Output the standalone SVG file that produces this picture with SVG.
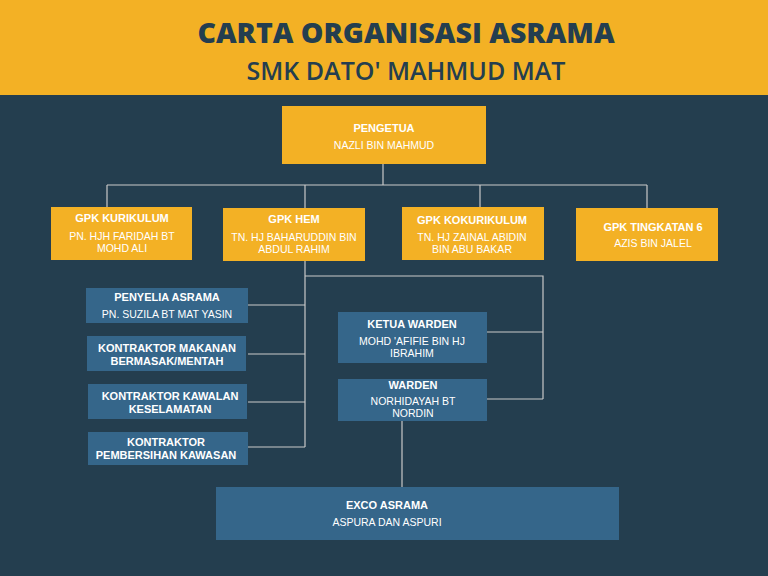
<svg xmlns="http://www.w3.org/2000/svg" width="768" height="576" viewBox="0 0 768 576">
<style>
.t{font-family:"Liberation Sans","Open Sans",sans-serif;fill:#ffffff;text-anchor:middle}
.h{font-weight:700;font-size:11px}
.n{font-weight:400;font-size:10.5px}
.y{fill:#f3b125}
.b{fill:#35668a}
.c{stroke:#c9c9c9;stroke-width:1.2;fill:none}
</style>
<rect x="0" y="0" width="768" height="576" fill="#243e4f"/>
<rect x="0" y="0" width="768" height="95" fill="#f3b125"/>
<text x="406" y="43" font-family="Open Sans, Liberation Sans, sans-serif" font-weight="800" font-size="28.5" fill="#243e4f" text-anchor="middle">CARTA ORGANISASI ASRAMA</text>
<text x="406" y="80" font-family="Open Sans, Liberation Sans, sans-serif" font-weight="600" font-size="25" fill="#243e4f" text-anchor="middle">SMK DATO' MAHMUD MAT</text>
<g id="connectors" class="c">
<path d="M383 164V185M107 185H647M107 185V207M305 185V208M480 185V207M647 185V208"/>
<path d="M305 261V447M305 276H543V399M248 305H305M248 354H305M248 402H305M248 447H305M487 332H543M487 399H543M402 421V487"/>
</g>
<g id="pengetua"><rect class="y" x="282" y="106" width="204" height="58"/><text class="t h" x="384" y="132">PENGETUA</text><text class="t n" x="384" y="149">NAZLI BIN MAHMUD</text></g>
<g id="gpk-kurikulum"><rect class="y" x="51" y="207" width="141" height="53"/><text class="t h" x="122" y="222">GPK  KURIKULUM</text><text class="t n" x="122" y="240">PN. HJH FARIDAH BT</text><text class="t n" x="122" y="252">MOHD ALI</text></g>
<g id="gpk-hem"><rect class="y" x="223" y="208" width="142" height="53"/><text class="t h" x="294" y="223">GPK HEM</text><text class="t n" x="294" y="241">TN. HJ BAHARUDDIN BIN</text><text class="t n" x="294" y="253">ABDUL RAHIM</text></g>
<g id="gpk-kokurikulum"><rect class="y" x="402" y="207" width="142" height="53"/><text class="t h" x="472" y="224">GPK KOKURIKULUM</text><text class="t n" x="472" y="241">TN. HJ ZAINAL ABIDIN</text><text class="t n" x="472" y="253">BIN ABU BAKAR</text></g>
<g id="gpk-tingkatan6"><rect class="y" x="576" y="208" width="142" height="53"/><text class="t h" x="653" y="231">GPK TINGKATAN 6</text><text class="t n" x="653" y="247">AZIS BIN JALEL</text></g>
<g id="penyelia"><rect class="b" x="86" y="288" width="162" height="35"/><text class="t h" x="167" y="301">PENYELIA ASRAMA</text><text class="t n" x="167" y="318">PN. SUZILA BT MAT YASIN</text></g>
<g id="kontraktor-makanan"><rect class="b" x="87" y="336" width="159" height="35"/><text class="t h" x="167" y="352">KONTRAKTOR MAKANAN</text><text class="t h" x="167" y="365">BERMASAK/MENTAH</text></g>
<g id="kontraktor-kawalan"><rect class="b" x="88" y="384" width="159" height="35"/><text class="t h" x="170" y="400">KONTRAKTOR KAWALAN</text><text class="t h" x="170" y="413">KESELAMATAN</text></g>
<g id="kontraktor-pembersihan"><rect class="b" x="88" y="432" width="160" height="33"/><text class="t h" x="166" y="446">KONTRAKTOR</text><text class="t h" x="166" y="459">PEMBERSIHAN KAWASAN</text></g>
<g id="ketua-warden"><rect class="b" x="338" y="312" width="149" height="51"/><text class="t h" x="412" y="328">KETUA WARDEN</text><text class="t n" x="412" y="345">MOHD 'AFIFIE BIN HJ</text><text class="t n" x="412" y="357">IBRAHIM</text></g>
<g id="warden"><rect class="b" x="338" y="379" width="149" height="42"/><text class="t h" x="413" y="389">WARDEN</text><text class="t n" x="413" y="405">NORHIDAYAH BT</text><text class="t n" x="413" y="417">NORDIN</text></g>
<g id="exco"><rect class="b" x="216" y="487" width="403" height="53"/><text class="t h" x="387" y="509">EXCO ASRAMA</text><text class="t n" x="387" y="526">ASPURA DAN ASPURI</text></g>
</svg>
